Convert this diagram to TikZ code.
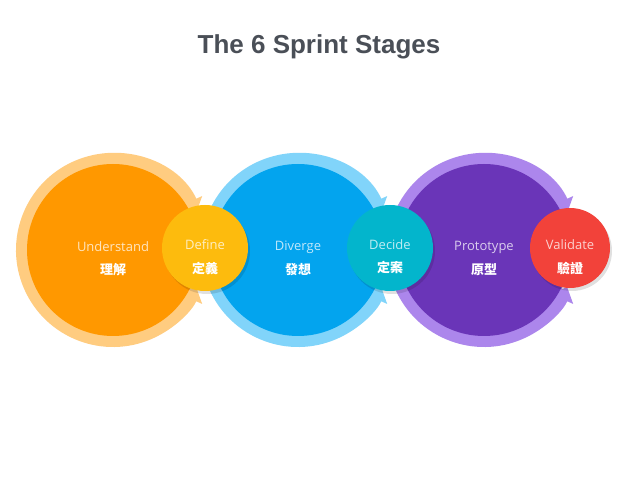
\documentclass[tikz,border=0pt]{standalone}
\usepackage{fontspec}
\setmainfont{Liberation Sans}
\newfontfamily\engfont{Open Sans}
\newfontfamily\cjk{Noto Sans CJK TC}
\usetikzlibrary{arrows.meta}
\definecolor{cOr}{HTML}{FF9800}\definecolor{cOrR}{HTML}{FFCC80}
\definecolor{cYe}{HTML}{FDBB0D}
\definecolor{cBl}{HTML}{03A4EE}\definecolor{cBlR}{HTML}{81D4FA}
\definecolor{cTe}{HTML}{03B5CC}
\definecolor{cPu}{HTML}{6A35B8}\definecolor{cPuR}{HTML}{AC86EC}
\definecolor{cRe}{HTML}{F2423A}
\definecolor{cTitle}{HTML}{4A4F57}
\begin{document}
\begin{tikzpicture}[x=1pt,y=1pt,
  ring/.style={line width=12pt,{Triangle[width=24pt,length=13pt]}-{Triangle[width=24pt,length=13pt]}},
  big/.style={circle,minimum size=172pt,inner sep=0pt},
  small/.style={circle,minimum size=86pt,inner sep=0pt},
  lab/.style={align=center,text=white,font=\engfont\fontsize{13}{16}\selectfont}]
\fill[white] (0,0) rectangle (638,479);
\useasboundingbox (0,0) rectangle (638,479);
\node (title) at (319,432) {\fontsize{26}{30}\selectfont\bfseries\color{cTitle}The 6 Sprint Stages};
% rings
\foreach \cx/\col in {113/cOrR,298/cBlR,484/cPuR}{
  \draw[ring,draw=\col,fill=\col] (\cx,229) ++(24:91) arc[start angle=24,end angle=336,radius=91];
}
\node[big,fill=cOr] (und) at (113,229) {};
\node[big,fill=cBl] (div) at (298,229) {};
\node[big,fill=cPu] (pro) at (484,229) {};
\foreach \n/\cx/\col/\s in {def/205/cYe/86,dec/390/cTe/86,val/570/cRe/80}{
  \fill[black,opacity=0.12] (\cx+2,228) circle (\s/2);
  \node[small,minimum size=\s pt,fill=\col] (\n) at (\cx,231) {};
}
\foreach \n/\e/\c in {und/Understand/理解,def/Define/定義,div/Diverge/發想,dec/Decide/定案,pro/Prototype/原型,val/Validate/驗證}{
  \node[lab,opacity=0.75] (\n e) at ([yshift=3pt]\n) {\e};
  \node[lab,font=\cjk\bfseries\fontsize{13}{16}\selectfont] (\n c) at ([yshift=-20pt]\n) {\c};
}
\end{tikzpicture}
\end{document}
